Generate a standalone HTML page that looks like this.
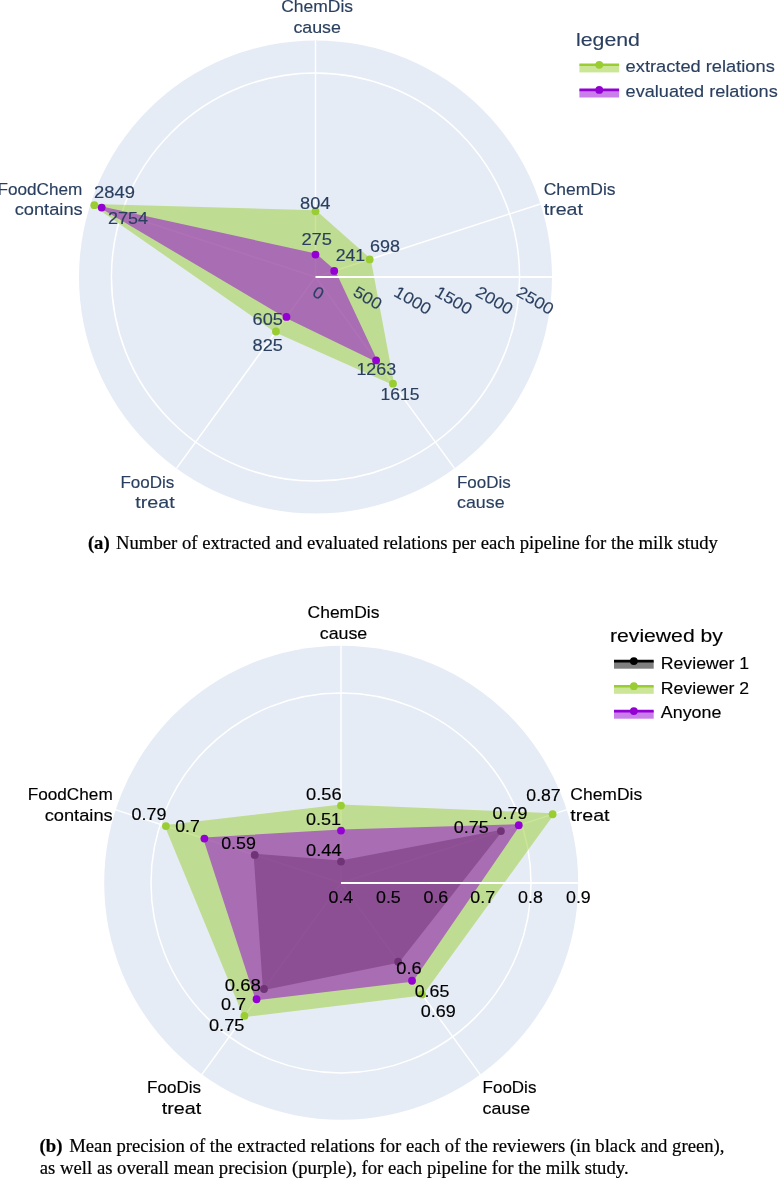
<!DOCTYPE html>
<html><head><meta charset="utf-8"><title>Figure</title>
<style>
html,body{margin:0;padding:0;background:#fff;}
body{width:778px;height:1179px;position:relative;overflow:hidden;}
svg{position:absolute;left:0;top:0;will-change:transform;}
svg text{font-family:"Liberation Sans",sans-serif;}
.cap{position:absolute;font-family:"Liberation Serif",serif;font-size:18.7px;color:#000;white-space:nowrap;line-height:21.8px;}
.cap b{font-weight:bold;}
</style></head>
<body>
<svg width="778" height="1179" viewBox="0 0 778 1179">
<circle cx="315.5" cy="277.0" r="236.5" fill="#e5ecf6"/>
<circle cx="315.5" cy="277.0" r="204.07" fill="none" stroke="#fff" stroke-width="1.5"/>
<line x1="315.5" y1="277.0" x2="315.50" y2="40.50" stroke="#fff" stroke-width="1.5"/>
<line x1="315.5" y1="277.0" x2="540.42" y2="203.92" stroke="#fff" stroke-width="1.5"/>
<line x1="315.5" y1="277.0" x2="454.51" y2="468.33" stroke="#fff" stroke-width="1.5"/>
<line x1="315.5" y1="277.0" x2="176.49" y2="468.33" stroke="#fff" stroke-width="1.5"/>
<line x1="315.5" y1="277.0" x2="90.58" y2="203.92" stroke="#fff" stroke-width="1.5"/>
<g opacity="0.5"><polygon points="315.50,211.37 369.69,259.39 392.99,383.65 275.92,331.48 94.32,205.13" fill="#9acd32" stroke="#9acd32" stroke-width="2.2" stroke-linejoin="round"/></g>
<circle cx="315.50" cy="211.37" r="3.9" fill="#9acd32"/>
<circle cx="369.69" cy="259.39" r="3.9" fill="#9acd32"/>
<circle cx="392.99" cy="383.65" r="3.9" fill="#9acd32"/>
<circle cx="275.92" cy="331.48" r="3.9" fill="#9acd32"/>
<circle cx="94.32" cy="205.13" r="3.9" fill="#9acd32"/>
<g opacity="0.5"><polygon points="315.50,254.55 334.21,270.92 376.10,360.41 286.47,316.95 101.69,207.53" fill="#9400d3" stroke="#9400d3" stroke-width="2.2" stroke-linejoin="round"/></g>
<circle cx="315.50" cy="254.55" r="3.9" fill="#9400d3"/>
<circle cx="334.21" cy="270.92" r="3.9" fill="#9400d3"/>
<circle cx="376.10" cy="360.41" r="3.9" fill="#9400d3"/>
<circle cx="286.47" cy="316.95" r="3.9" fill="#9400d3"/>
<circle cx="101.69" cy="207.53" r="3.9" fill="#9400d3"/>
<line x1="315.5" y1="277.0" x2="552.00" y2="277.0" stroke="#fff" stroke-width="2"/>
<text x="94.10" y="198.00" text-anchor="start" fill="#2a3f5f" stroke="#2a3f5f" stroke-width="0.15" font-size="16.38" textLength="40.90" lengthAdjust="spacingAndGlyphs">2849</text>
<text x="108.10" y="223.60" text-anchor="start" fill="#2a3f5f" stroke="#2a3f5f" stroke-width="0.15" font-size="16.38" textLength="40.00" lengthAdjust="spacingAndGlyphs">2754</text>
<text x="300.10" y="208.50" text-anchor="start" fill="#2a3f5f" stroke="#2a3f5f" stroke-width="0.15" font-size="16.38" textLength="30.40" lengthAdjust="spacingAndGlyphs">804</text>
<text x="301.40" y="245.10" text-anchor="start" fill="#2a3f5f" stroke="#2a3f5f" stroke-width="0.15" font-size="16.38" textLength="30.60" lengthAdjust="spacingAndGlyphs">275</text>
<text x="335.70" y="261.40" text-anchor="start" fill="#2a3f5f" stroke="#2a3f5f" stroke-width="0.15" font-size="16.38" textLength="29.50" lengthAdjust="spacingAndGlyphs">241</text>
<text x="369.90" y="251.80" text-anchor="start" fill="#2a3f5f" stroke="#2a3f5f" stroke-width="0.15" font-size="16.38" textLength="30.00" lengthAdjust="spacingAndGlyphs">698</text>
<text x="252.60" y="324.80" text-anchor="start" fill="#2a3f5f" stroke="#2a3f5f" stroke-width="0.15" font-size="16.38" textLength="30.30" lengthAdjust="spacingAndGlyphs">605</text>
<text x="252.60" y="351.30" text-anchor="start" fill="#2a3f5f" stroke="#2a3f5f" stroke-width="0.15" font-size="16.38" textLength="30.30" lengthAdjust="spacingAndGlyphs">825</text>
<text x="356.40" y="374.80" text-anchor="start" fill="#2a3f5f" stroke="#2a3f5f" stroke-width="0.15" font-size="16.38" textLength="39.80" lengthAdjust="spacingAndGlyphs">1263</text>
<text x="380.40" y="399.50" text-anchor="start" fill="#2a3f5f" stroke="#2a3f5f" stroke-width="0.15" font-size="16.38" textLength="39.00" lengthAdjust="spacingAndGlyphs">1615</text>
<g transform="translate(314.00,290.40) rotate(30)"><text x="0" y="5.6" fill="#2a3f5f" stroke="#2a3f5f" stroke-width="0.15" font-size="16.38" textLength="9.93" lengthAdjust="spacingAndGlyphs">0</text></g>
<g transform="translate(354.81,290.40) rotate(30)"><text x="0" y="5.6" fill="#2a3f5f" stroke="#2a3f5f" stroke-width="0.15" font-size="16.38" textLength="29.77" lengthAdjust="spacingAndGlyphs">500</text></g>
<g transform="translate(395.63,290.40) rotate(30)"><text x="0" y="5.6" fill="#2a3f5f" stroke="#2a3f5f" stroke-width="0.15" font-size="16.38" textLength="39.70" lengthAdjust="spacingAndGlyphs">1000</text></g>
<g transform="translate(436.44,290.40) rotate(30)"><text x="0" y="5.6" fill="#2a3f5f" stroke="#2a3f5f" stroke-width="0.15" font-size="16.38" textLength="39.70" lengthAdjust="spacingAndGlyphs">1500</text></g>
<g transform="translate(477.26,290.40) rotate(30)"><text x="0" y="5.6" fill="#2a3f5f" stroke="#2a3f5f" stroke-width="0.15" font-size="16.38" textLength="39.70" lengthAdjust="spacingAndGlyphs">2000</text></g>
<g transform="translate(518.08,290.40) rotate(30)"><text x="0" y="5.6" fill="#2a3f5f" stroke="#2a3f5f" stroke-width="0.15" font-size="16.38" textLength="39.70" lengthAdjust="spacingAndGlyphs">2500</text></g>
<text x="317.15" y="12.00" text-anchor="middle" fill="#2a3f5f" stroke="#2a3f5f" stroke-width="0.15" font-size="16.38" textLength="71.85" lengthAdjust="spacingAndGlyphs">ChemDis</text>
<text x="317.15" y="32.60" text-anchor="middle" fill="#2a3f5f" stroke="#2a3f5f" stroke-width="0.15" font-size="16.38" textLength="47.55" lengthAdjust="spacingAndGlyphs">cause</text>
<text x="543.70" y="194.70" text-anchor="start" fill="#2a3f5f" stroke="#2a3f5f" stroke-width="0.15" font-size="16.38" textLength="71.85" lengthAdjust="spacingAndGlyphs">ChemDis</text>
<text x="543.70" y="215.20" text-anchor="start" fill="#2a3f5f" stroke="#2a3f5f" stroke-width="0.15" font-size="16.38" textLength="39.26" lengthAdjust="spacingAndGlyphs">treat</text>
<text x="82.40" y="194.70" text-anchor="end" fill="#2a3f5f" stroke="#2a3f5f" stroke-width="0.15" font-size="16.38" textLength="84.98" lengthAdjust="spacingAndGlyphs">FoodChem</text>
<text x="82.70" y="215.20" text-anchor="end" fill="#2a3f5f" stroke="#2a3f5f" stroke-width="0.15" font-size="16.38" textLength="68.03" lengthAdjust="spacingAndGlyphs">contains</text>
<text x="174.40" y="487.60" text-anchor="end" fill="#2a3f5f" stroke="#2a3f5f" stroke-width="0.15" font-size="16.38" textLength="53.98" lengthAdjust="spacingAndGlyphs">FooDis</text>
<text x="174.80" y="508.20" text-anchor="end" fill="#2a3f5f" stroke="#2a3f5f" stroke-width="0.15" font-size="16.38" textLength="39.46" lengthAdjust="spacingAndGlyphs">treat</text>
<text x="457.00" y="487.60" text-anchor="start" fill="#2a3f5f" stroke="#2a3f5f" stroke-width="0.15" font-size="16.38" textLength="53.78" lengthAdjust="spacingAndGlyphs">FooDis</text>
<text x="457.00" y="508.20" text-anchor="start" fill="#2a3f5f" stroke="#2a3f5f" stroke-width="0.15" font-size="16.38" textLength="47.55" lengthAdjust="spacingAndGlyphs">cause</text>
<text x="576.00" y="45.70" text-anchor="start" fill="#2a3f5f" stroke="#2a3f5f" stroke-width="0.15" font-size="19.11" textLength="63.90" lengthAdjust="spacingAndGlyphs">legend</text>
<rect x="579.40" y="64.80" width="39.7" height="7.6" fill="#9acd32" fill-opacity="0.5"/>
<line x1="579.40" y1="64.80" x2="619.10" y2="64.80" stroke="#9acd32" stroke-width="2.6"/>
<circle cx="599.25" cy="64.80" r="3.9" fill="#9acd32"/>
<rect x="579.40" y="89.90" width="39.7" height="7.6" fill="#9400d3" fill-opacity="0.5"/>
<line x1="579.40" y1="89.90" x2="619.10" y2="89.90" stroke="#9400d3" stroke-width="2.6"/>
<circle cx="599.25" cy="89.90" r="3.9" fill="#9400d3"/>
<text x="625.60" y="72.10" text-anchor="start" fill="#2a3f5f" stroke="#2a3f5f" stroke-width="0.15" font-size="16.38" textLength="149.18" lengthAdjust="spacingAndGlyphs">extracted relations</text>
<text x="625.60" y="96.90" text-anchor="start" fill="#2a3f5f" stroke="#2a3f5f" stroke-width="0.15" font-size="16.38" textLength="152.12" lengthAdjust="spacingAndGlyphs">evaluated relations</text>
<circle cx="341.2" cy="882.7" r="237.0" fill="#e5ecf6"/>
<circle cx="341.0" cy="883.0" r="190.00" fill="none" stroke="#fff" stroke-width="1.5"/>
<line x1="341.0" y1="883.0" x2="341.00" y2="645.50" stroke="#fff" stroke-width="1.5"/>
<line x1="341.0" y1="883.0" x2="566.88" y2="809.61" stroke="#fff" stroke-width="1.5"/>
<line x1="341.0" y1="883.0" x2="480.60" y2="1075.14" stroke="#fff" stroke-width="1.5"/>
<line x1="341.0" y1="883.0" x2="201.40" y2="1075.14" stroke="#fff" stroke-width="1.5"/>
<line x1="341.0" y1="883.0" x2="115.12" y2="809.61" stroke="#fff" stroke-width="1.5"/>
<g opacity="0.5"><polygon points="341.00,861.62 500.92,831.04 398.18,961.70 264.00,988.99 254.72,854.96" fill="#000000" stroke="#000000" stroke-width="2.2" stroke-linejoin="round"/></g>
<circle cx="341.00" cy="861.62" r="3.9" fill="#000000"/>
<circle cx="500.92" cy="831.04" r="3.9" fill="#000000"/>
<circle cx="398.18" cy="961.70" r="3.9" fill="#000000"/>
<circle cx="264.00" cy="988.99" r="3.9" fill="#000000"/>
<circle cx="254.72" cy="854.96" r="3.9" fill="#000000"/>
<g opacity="0.5"><polygon points="341.00,805.58 552.65,814.23 421.97,994.44 244.40,1015.96 165.90,826.11" fill="#9acd32" stroke="#9acd32" stroke-width="2.2" stroke-linejoin="round"/></g>
<circle cx="341.00" cy="805.58" r="3.9" fill="#9acd32"/>
<circle cx="552.65" cy="814.23" r="3.9" fill="#9acd32"/>
<circle cx="421.97" cy="994.44" r="3.9" fill="#9acd32"/>
<circle cx="244.40" cy="1015.96" r="3.9" fill="#9acd32"/>
<circle cx="165.90" cy="826.11" r="3.9" fill="#9acd32"/>
<g opacity="0.5"><polygon points="341.00,830.61 518.76,825.24 412.03,980.76 256.54,999.25 204.39,838.61" fill="#9400d3" stroke="#9400d3" stroke-width="2.2" stroke-linejoin="round"/></g>
<circle cx="341.00" cy="830.61" r="3.9" fill="#9400d3"/>
<circle cx="518.76" cy="825.24" r="3.9" fill="#9400d3"/>
<circle cx="412.03" cy="980.76" r="3.9" fill="#9400d3"/>
<circle cx="256.54" cy="999.25" r="3.9" fill="#9400d3"/>
<circle cx="204.39" cy="838.61" r="3.9" fill="#9400d3"/>
<line x1="341.0" y1="883.0" x2="578.50" y2="883.0" stroke="#fff" stroke-width="2"/>
<text x="340.90" y="903.00" text-anchor="middle" fill="#000000" stroke="#000000" stroke-width="0.15" font-size="16.38" textLength="24.81" lengthAdjust="spacingAndGlyphs">0.4</text>
<text x="388.40" y="903.00" text-anchor="middle" fill="#000000" stroke="#000000" stroke-width="0.15" font-size="16.38" textLength="24.81" lengthAdjust="spacingAndGlyphs">0.5</text>
<text x="435.90" y="903.00" text-anchor="middle" fill="#000000" stroke="#000000" stroke-width="0.15" font-size="16.38" textLength="24.81" lengthAdjust="spacingAndGlyphs">0.6</text>
<text x="482.70" y="903.00" text-anchor="middle" fill="#000000" stroke="#000000" stroke-width="0.15" font-size="16.38" textLength="24.81" lengthAdjust="spacingAndGlyphs">0.7</text>
<text x="530.50" y="903.00" text-anchor="middle" fill="#000000" stroke="#000000" stroke-width="0.15" font-size="16.38" textLength="24.81" lengthAdjust="spacingAndGlyphs">0.8</text>
<text x="578.40" y="903.00" text-anchor="middle" fill="#000000" stroke="#000000" stroke-width="0.15" font-size="16.38" textLength="24.81" lengthAdjust="spacingAndGlyphs">0.9</text>
<text x="306.00" y="799.70" text-anchor="start" fill="#000000" stroke="#000000" stroke-width="0.15" font-size="16.38" textLength="35.60" lengthAdjust="spacingAndGlyphs">0.56</text>
<text x="306.00" y="825.20" text-anchor="start" fill="#000000" stroke="#000000" stroke-width="0.15" font-size="16.38" textLength="35.10" lengthAdjust="spacingAndGlyphs">0.51</text>
<text x="306.00" y="855.60" text-anchor="start" fill="#000000" stroke="#000000" stroke-width="0.15" font-size="16.38" textLength="35.60" lengthAdjust="spacingAndGlyphs">0.44</text>
<text x="131.60" y="819.60" text-anchor="start" fill="#000000" stroke="#000000" stroke-width="0.15" font-size="16.38" textLength="34.90" lengthAdjust="spacingAndGlyphs">0.79</text>
<text x="175.30" y="831.80" text-anchor="start" fill="#000000" stroke="#000000" stroke-width="0.15" font-size="16.38" textLength="24.50" lengthAdjust="spacingAndGlyphs">0.7</text>
<text x="221.20" y="849.20" text-anchor="start" fill="#000000" stroke="#000000" stroke-width="0.15" font-size="16.38" textLength="34.70" lengthAdjust="spacingAndGlyphs">0.59</text>
<text x="526.30" y="801.40" text-anchor="start" fill="#000000" stroke="#000000" stroke-width="0.15" font-size="16.38" textLength="34.40" lengthAdjust="spacingAndGlyphs">0.87</text>
<text x="492.60" y="819.30" text-anchor="start" fill="#000000" stroke="#000000" stroke-width="0.15" font-size="16.38" textLength="34.80" lengthAdjust="spacingAndGlyphs">0.79</text>
<text x="453.80" y="833.10" text-anchor="start" fill="#000000" stroke="#000000" stroke-width="0.15" font-size="16.38" textLength="34.90" lengthAdjust="spacingAndGlyphs">0.75</text>
<text x="396.30" y="974.20" text-anchor="start" fill="#000000" stroke="#000000" stroke-width="0.15" font-size="16.38" textLength="25.40" lengthAdjust="spacingAndGlyphs">0.6</text>
<text x="414.70" y="997.40" text-anchor="start" fill="#000000" stroke="#000000" stroke-width="0.15" font-size="16.38" textLength="34.70" lengthAdjust="spacingAndGlyphs">0.65</text>
<text x="420.80" y="1016.80" text-anchor="start" fill="#000000" stroke="#000000" stroke-width="0.15" font-size="16.38" textLength="35.00" lengthAdjust="spacingAndGlyphs">0.69</text>
<text x="224.70" y="990.60" text-anchor="start" fill="#000000" stroke="#000000" stroke-width="0.15" font-size="16.38" textLength="36.10" lengthAdjust="spacingAndGlyphs">0.68</text>
<text x="220.90" y="1010.40" text-anchor="start" fill="#000000" stroke="#000000" stroke-width="0.15" font-size="16.38" textLength="25.10" lengthAdjust="spacingAndGlyphs">0.7</text>
<text x="209.00" y="1031.00" text-anchor="start" fill="#000000" stroke="#000000" stroke-width="0.15" font-size="16.38" textLength="35.40" lengthAdjust="spacingAndGlyphs">0.75</text>
<text x="343.50" y="618.00" text-anchor="middle" fill="#000000" stroke="#000000" stroke-width="0.15" font-size="16.38" textLength="71.85" lengthAdjust="spacingAndGlyphs">ChemDis</text>
<text x="343.50" y="638.80" text-anchor="middle" fill="#000000" stroke="#000000" stroke-width="0.15" font-size="16.38" textLength="47.55" lengthAdjust="spacingAndGlyphs">cause</text>
<text x="570.30" y="799.90" text-anchor="start" fill="#000000" stroke="#000000" stroke-width="0.15" font-size="16.38" textLength="71.85" lengthAdjust="spacingAndGlyphs">ChemDis</text>
<text x="570.30" y="820.50" text-anchor="start" fill="#000000" stroke="#000000" stroke-width="0.15" font-size="16.38" textLength="39.26" lengthAdjust="spacingAndGlyphs">treat</text>
<text x="112.70" y="799.90" text-anchor="end" fill="#000000" stroke="#000000" stroke-width="0.15" font-size="16.38" textLength="84.98" lengthAdjust="spacingAndGlyphs">FoodChem</text>
<text x="112.70" y="820.50" text-anchor="end" fill="#000000" stroke="#000000" stroke-width="0.15" font-size="16.38" textLength="68.03" lengthAdjust="spacingAndGlyphs">contains</text>
<text x="201.00" y="1093.10" text-anchor="end" fill="#000000" stroke="#000000" stroke-width="0.15" font-size="16.38" textLength="53.98" lengthAdjust="spacingAndGlyphs">FooDis</text>
<text x="201.20" y="1113.70" text-anchor="end" fill="#000000" stroke="#000000" stroke-width="0.15" font-size="16.38" textLength="39.46" lengthAdjust="spacingAndGlyphs">treat</text>
<text x="482.60" y="1093.10" text-anchor="start" fill="#000000" stroke="#000000" stroke-width="0.15" font-size="16.38" textLength="53.78" lengthAdjust="spacingAndGlyphs">FooDis</text>
<text x="482.60" y="1113.70" text-anchor="start" fill="#000000" stroke="#000000" stroke-width="0.15" font-size="16.38" textLength="47.55" lengthAdjust="spacingAndGlyphs">cause</text>
<text x="610.00" y="641.60" text-anchor="start" fill="#000000" stroke="#000000" stroke-width="0.15" font-size="19.11" textLength="112.86" lengthAdjust="spacingAndGlyphs">reviewed by</text>
<rect x="614.00" y="661.10" width="39.7" height="7.6" fill="#000000" fill-opacity="0.5"/>
<line x1="614.00" y1="661.10" x2="653.70" y2="661.10" stroke="#000000" stroke-width="2.6"/>
<circle cx="633.85" cy="661.10" r="3.9" fill="#000000"/>
<rect x="614.00" y="686.20" width="39.7" height="7.6" fill="#9acd32" fill-opacity="0.5"/>
<line x1="614.00" y1="686.20" x2="653.70" y2="686.20" stroke="#9acd32" stroke-width="2.6"/>
<circle cx="633.85" cy="686.20" r="3.9" fill="#9acd32"/>
<rect x="614.00" y="711.10" width="39.7" height="7.6" fill="#9400d3" fill-opacity="0.5"/>
<line x1="614.00" y1="711.10" x2="653.70" y2="711.10" stroke="#9400d3" stroke-width="2.6"/>
<circle cx="633.85" cy="711.10" r="3.9" fill="#9400d3"/>
<text x="660.80" y="668.60" text-anchor="start" fill="#000000" stroke="#000000" stroke-width="0.15" font-size="16.38" textLength="88.36" lengthAdjust="spacingAndGlyphs">Reviewer 1</text>
<text x="660.80" y="693.50" text-anchor="start" fill="#000000" stroke="#000000" stroke-width="0.15" font-size="16.38" textLength="88.36" lengthAdjust="spacingAndGlyphs">Reviewer 2</text>
<text x="660.80" y="718.40" text-anchor="start" fill="#000000" stroke="#000000" stroke-width="0.15" font-size="16.38" textLength="60.62" lengthAdjust="spacingAndGlyphs">Anyone</text>
<g font-family="Liberation Serif" style="font-family:'Liberation Serif',serif;font-size:18.7px" fill="#000" stroke="#000" stroke-width="0.2">
<text x="87.9" y="549.0" style="font-family:'Liberation Serif',serif;font-size:18.7px;font-weight:bold">(a)</text>
<text x="116.0" y="549.0" style="font-family:'Liberation Serif',serif;font-size:18.7px">Number of extracted and evaluated relations per each pipeline for the milk study</text>
<text x="39.6" y="1152.2" style="font-family:'Liberation Serif',serif;font-size:18.7px;font-weight:bold">(b)</text>
<text x="69.2" y="1152.2" style="font-family:'Liberation Serif',serif;font-size:18.7px">Mean precision of the extracted relations for each of the reviewers (in black and green),</text>
<text x="39.8" y="1174.0" style="font-family:'Liberation Serif',serif;font-size:18.7px">as well as overall mean precision (purple), for each pipeline for the milk study.</text>
</g>
</svg>
</body></html>
